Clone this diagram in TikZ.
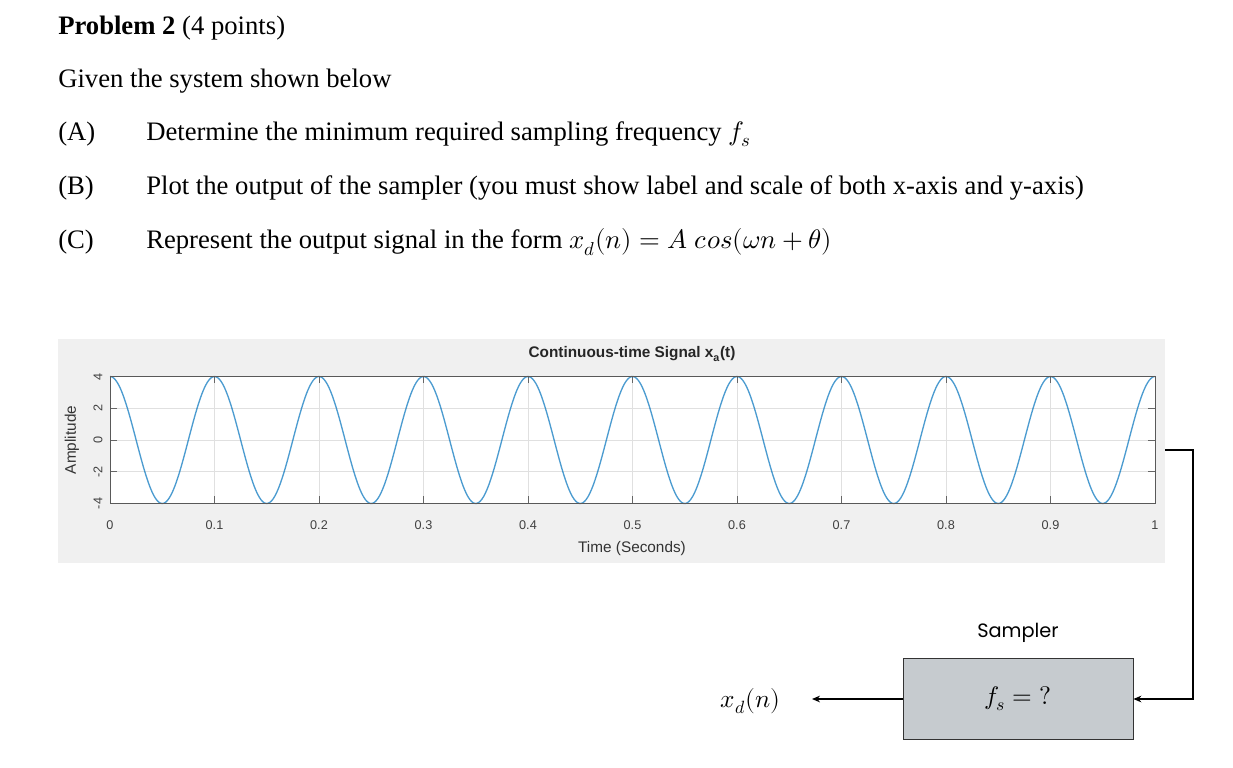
\documentclass[tikz,border=0pt]{standalone}
\usetikzlibrary{arrows.meta}
\usepackage{fontspec}
\setmainfont{Liberation Serif}
\newfontfamily\plotfont{Liberation Sans}
\newfontfamily\sampfont{Poppins}
\usepackage{unicode-math}
\begin{document}
\begin{tikzpicture}[x=0.75pt,y=-0.75pt,
  body/.style={anchor=west,font=\fontsize{20}{23}\selectfont,inner sep=0},
  tick/.style={font=\plotfont\fontsize{9.5}{11}\selectfont,text=black!75},
  grid/.style={black!12,line width=0.5pt},
  arr/.style={-{Stealth[length=6pt,width=5pt]},line width=0.9pt}]
\useasboundingbox (0,0) rectangle (1233,768);
\node[body] (p) at (58,28) {\textbf{Problem 2} (4 points)};
\node[body] (g) at (58,81) {Given the system shown below};
\node[body] (a) at (58,134) {(A)};
\node[body] (at) at (146,134) {Determine the minimum required sampling frequency $f_s$};
\node[body] (b) at (58,188) {(B)};
\node[body] (bt) at (146,188) {Plot the output of the sampler (you must show label and scale of both x-axis and y-axis)};
\node[body] (c) at (58,242) {(C)};
\node[body] (ct) at (146,242) {Represent the output signal in the form $x_d(n)=A\;cos(\omega n+\theta)$};
% plot
\fill[black!6] (58,339) rectangle (1165,563);
\fill[white] (110,376) rectangle (1155,503);
\foreach \i in {1,...,9} \draw[grid] ({110+104.5*\i},376) -- ({110+104.5*\i},503);
\foreach \v in {-2,0,2} \draw[grid] (110,{440-15.875*\v}) -- (1155,{440-15.875*\v});
\foreach \i in {0,...,10} {
  \draw[black!60,line width=0.5pt] ({110+104.5*\i},503) -- ({110+104.5*\i},496);
  \draw[black!60,line width=0.5pt] ({110+104.5*\i},376) -- ({110+104.5*\i},383);
}
\foreach \v in {-4,-2,0,2,4} {
  \draw[black!60,line width=0.5pt] (110,{440-15.875*\v}) -- (117,{440-15.875*\v});
  \draw[black!60,line width=0.5pt] (1155,{440-15.875*\v}) -- (1148,{440-15.875*\v});
  \node[tick,rotate=90] at (98,{440-15.875*\v}) {\v};
}
\foreach \l [count=\i from 0] in {0,0.1,0.2,0.3,0.4,0.5,0.6,0.7,0.8,0.9,1}
  \node[tick] at ({110+104.5*\i},525) {\l};
\draw[color={rgb,255:red,0;green,114;blue,189},line width=1pt,opacity=0.7]
  plot[domain=0:1,samples=600] ({110+1045*\x},{440-63.5*cos(3600*\x)});
\draw[black!65,line width=0.7pt] (110,376) rectangle (1155,503);
\node[font=\plotfont\fontsize{11.5}{13}\selectfont,text=black!80] at (632,549) {Time (Seconds)};
\node[font=\plotfont\fontsize{11.5}{13}\selectfont,text=black!80,rotate=90] at (72,440) {Amplitude};
\node[font=\plotfont\bfseries\fontsize{11.5}{13}\selectfont,text=black!85] at (632,354) {Continuous-time Signal x$_{\text{a}}$(t)};
% sampler
\node (s) at (1018,699) [draw=black!80,fill={rgb,255:red,198;green,203;blue,207},minimum width=230*0.75pt,minimum height=81*0.75pt,inner sep=0,line width=0.6pt,font=\fontsize{19}{22}\selectfont] {$f_s=?$};
\node[font=\sampfont\fontsize{14.5}{17}\selectfont] (sl) at (1018,633) {Sampler};
\node[font=\fontsize{19}{22}\selectfont,anchor=east] (xd) at (785,701) {$x_d(n)$};
\coordinate (o) at (1165,450);
\draw[arr] (o) -- (1193,450) |- (s.east);
\draw[arr] (s.west) -- (812,699);
\end{tikzpicture}
\end{document}
